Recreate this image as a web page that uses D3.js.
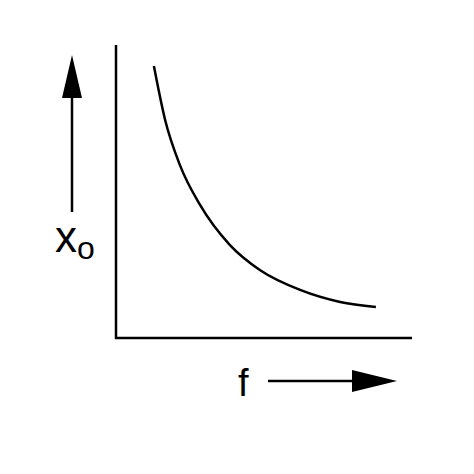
<!DOCTYPE html>
<html><head><meta charset="utf-8">
<script src="https://cdn.jsdelivr.net/npm/d3@7"></script>
<style>body{margin:0;background:#fff}</style>
</head><body>
<svg id="c" width="474" height="474"></svg>
<script>
const fValues = [1.28, 1.66, 2.16, 2.84, 3.85, 4.86, 6.22, 7.57, 8.78];
const x0Values = [9.28, 7.44, 5.9, 4.54, 3.17, 2.32, 1.64, 1.23, 1.06];
const xLabel = "f";
const yLabel = "x";
const ySub = "o";

const svg = d3.select("#c");
const x = d3.scaleLinear().domain([0, 10]).range([116, 412]);
const y = d3.scaleLinear().domain([0, 10]).range([338, 45]);

svg.append("path").attr("d",`M${x(0)},${y(10)}V${y(0)}H${x(10)}`)
  .attr("fill","none").attr("stroke","#000").attr("stroke-width",2.5);

const pts = fValues.map((f,i)=>[f, x0Values[i]]);
svg.append("path").datum(pts)
  .attr("d", d3.line().x(d=>x(d[0])).y(d=>y(d[1])).curve(d3.curveMonotoneX))
  .attr("fill","none").attr("stroke","#000").attr("stroke-width",2.5);

svg.append("line").attr("x1",72).attr("y1",212).attr("x2",72).attr("y2",88)
  .attr("stroke","#000").attr("stroke-width",2.5);
svg.append("path").attr("d","M62,98L72,55L82,98z").attr("fill","#000");
svg.append("line").attr("x1",268).attr("y1",381).attr("x2",360).attr("y2",381)
  .attr("stroke","#000").attr("stroke-width",2.5);
svg.append("path").attr("d","M352,370L397,381L352,392z").attr("fill","#000");

const yl = svg.append("text").attr("x",55).attr("y",252)
  .attr("font-family","Liberation Sans, Arial, sans-serif").attr("font-size",44);
yl.append("tspan").text(yLabel);
yl.append("tspan").attr("dy",7).attr("font-size",32).text(ySub);

svg.append("text").attr("x",238).attr("y",396)
  .attr("font-family","Liberation Sans, Arial, sans-serif").attr("font-size",38).text(xLabel);
</script>
</body></html>
